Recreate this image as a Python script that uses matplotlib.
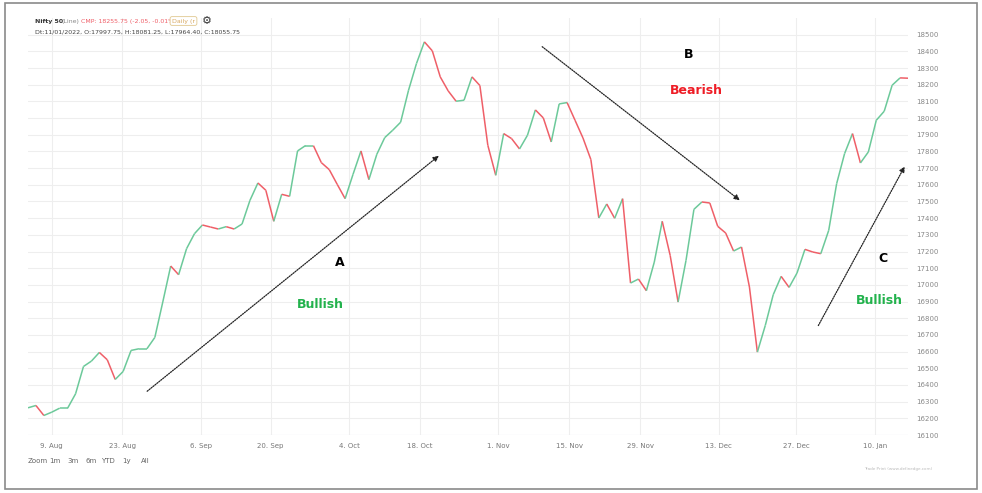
import matplotlib
matplotlib.use("Agg")
import matplotlib.pyplot as plt
import numpy as np
from matplotlib.collections import LineCollection
from matplotlib.patches import Rectangle

close = [16263, 16277, 16217, 16237, 16261, 16261, 16347, 16511, 16543, 16595,
         16551, 16433, 16481, 16607, 16617, 16617, 16685, 16897, 17113, 17061,
         17217, 17307, 17359, 17347, 17335, 17349, 17335, 17365, 17507, 17611,
         17567, 17381, 17543, 17531, 17803, 17835, 17835, 17733, 17691, 17603,
         17517, 17663, 17803, 17631, 17783, 17883, 17927, 17975, 18167, 18327,
         18457, 18403, 18247, 18163, 18101, 18107, 18247, 18195, 17837, 17657,
         17907, 17877, 17815, 17897, 18049, 18001, 17857, 18085, 18093, 17987,
         17881, 17751, 17401, 17485, 17399, 17517, 17011, 17035, 16965, 17137,
         17381, 17177, 16897, 17147, 17453, 17497, 17491, 17351, 17311, 17203,
         17227, 16987, 16597, 16757, 16941, 17051, 16985, 17071, 17213, 17197,
         17187, 17327, 17607, 17787, 17907, 17731, 17797, 17987, 18041, 18197,
         18241, 18239]
x_ticks = [3.0, 11.9, 21.8, 30.6, 40.5, 49.4, 59.3, 68.3, 77.2, 87.1, 96.9, 106.8]
x_labels = ["9. Aug", "23. Aug", "6. Sep", "20. Sep", "4. Oct", "18. Oct",
            "1. Nov", "15. Nov", "29. Nov", "13. Dec", "27. Dec", "10. Jan"]
y_ticks = list(range(16100, 18501, 100))

W, H = 982, 493
fig = plt.figure(figsize=(W/100, H/100), dpi=100)
fig.patches.append(Rectangle((5/W, 4/H), 972/W, 486/H, transform=fig.transFigure,
                             fill=False, ec="#8a8a8a", lw=1.2))
ax = fig.add_axes([28/W, 1-435/H, 880/W, (435-18)/H])
x = np.arange(len(close))
y = np.array(close, float)
pts = np.column_stack([x, y])
segs = np.stack([pts[:-1], pts[1:]], axis=1)
cols = ["#6cc99a" if y[i+1] >= y[i] else "#ef5f68" for i in range(len(y)-1)]
ax.add_collection(LineCollection(segs, colors=cols, linewidths=1.1))
ax.set_xlim(0, len(close)-1)
ax.set_ylim(16100, 18600)
ax.set_xticks(x_ticks)
ax.set_xticklabels(x_labels, fontsize=5, color="#777777")
ax.set_yticks(y_ticks)
ax.set_yticklabels([str(v) for v in y_ticks], fontsize=5, color="#888888")
ax.yaxis.tick_right()
ax.tick_params(length=0, pad=6)
ax.grid(True, color="#eeeeee", lw=0.8)
for s in ax.spines.values():
    s.set_visible(False)
ax.axhline(16100, color="#e6e6f0", lw=0.8)

def px(xp, yp):
    return (xp/W, 1-yp/H)

def arrow(p0, p1):
    fig.patches.append(matplotlib.patches.FancyArrowPatch(
        px(*p0), px(*p1), transform=fig.transFigure, arrowstyle="-|>",
        mutation_scale=8, color="#222222", lw=0.9, linestyle=(0, (1, 1))))

arrow((145, 393), (441, 154))
arrow((540, 45), (742, 202))
arrow((817, 328), (906, 164))
tk = dict(transform=fig.transFigure, ha="center", va="center", fontweight="bold")
fig.text(*px(340, 262), "A", fontsize=9, color="black", **tk)
fig.text(*px(320, 304), "Bullish", fontsize=9, color="#22b24c", **tk)
fig.text(*px(689, 54), "B", fontsize=9, color="black", **tk)
fig.text(*px(696, 91), "Bearish", fontsize=9, color="#ee1c25", **tk)
fig.text(*px(883, 258), "C", fontsize=9, color="black", **tk)
fig.text(*px(879, 300), "Bullish", fontsize=9, color="#22b24c", **tk)

ht = dict(transform=fig.transFigure, va="center", fontsize=4.5)
fig.text(*px(35, 21), "Nifty 50", color="#333333", fontweight="bold", **ht)
fig.text(*px(62, 21), "(Line)", color="#888888", **ht)
fig.text(*px(81, 21), "CMP: 18255.75 (-2.05, -0.01%)", color="#ef5f68", **ht)
fig.text(*px(172, 21), "Daily (r", color="#d8a860", transform=fig.transFigure,
         va="center", fontsize=4.5,
         bbox=dict(boxstyle="round,pad=0.3", fc="white", ec="#e0c890", lw=0.6))
fig.text(*px(207, 21), "⚙", color="#333333", transform=fig.transFigure,
         va="center", ha="center", fontsize=8)
fig.text(*px(35, 32), "Dt:11/01/2022, O:17997.75, H:18081.25, L:17964.40, C:18055.75",
         color="#444444", **ht)
fx = [28, 49, 67, 85, 101, 122, 141]
for xp, t in zip(fx, ["Zoom", "1m", "3m", "6m", "YTD", "1y", "All"]):
    fig.text(*px(xp, 461), t, color="#666666", transform=fig.transFigure,
             va="center", fontsize=5)
fig.text(*px(932, 469), "Trade Print (www.definedge.com)", color="#bbbbbb",
         transform=fig.transFigure, va="center", ha="right", fontsize=3)
fig.savefig("out.png", dpi=100)
